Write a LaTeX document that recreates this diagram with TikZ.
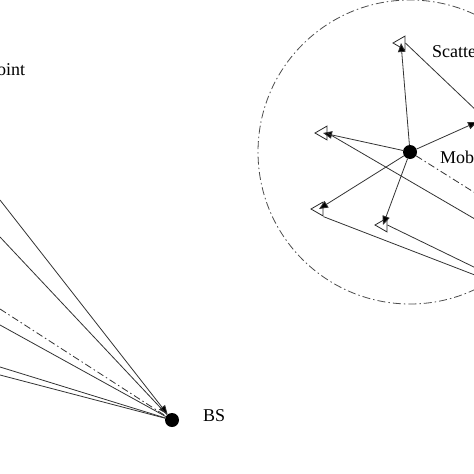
\documentclass[tikz,border=0pt]{standalone}
\usepackage{fontspec}
\setmainfont{Liberation Serif}
\usetikzlibrary{arrows.meta,shapes.geometric}
\tikzset{
  ray/.style={draw=black!80, line width=0.8pt},
  los/.style={ray, dash pattern=on 7pt off 3pt on 1.5pt off 3pt},
  zone/.style={draw=black!70, line width=0.8pt, dash pattern=on 8pt off 3pt on 1.5pt off 3pt},
  scatterer/.style={draw=black!85, line width=0.8pt, regular polygon, regular polygon sides=3,
    shape border rotate=90, minimum size=16pt, inner sep=0pt},
  station/.style={circle, fill=black, minimum size=14pt, inner sep=0pt},
  tip/.style={-{Triangle[length=9pt,width=7.5pt,fill=black]}},
  lbl/.style={anchor=base west, inner sep=0pt, font=\fontsize{18}{21}\selectfont}
}
\begin{document}
\begin{tikzpicture}[x=1pt, y=-1pt]
        \useasboundingbox (0,0) rectangle (474,474);
        \clip (0,0) rectangle (474,474);

        % Stations
        \node[station] (BS) at (172,420) {};
        \node[station] (M) at (410,152) {};

        % Scattering zone
        \draw[zone] (M.center) circle (152);

        % Scatterers
        \node[scatterer] (s1) at (401,43) {};
        \node[scatterer] (s2) at (323,133) {};
        \node[scatterer] (s3) at (319,209) {};
        \node[scatterer] (s4) at (383,225) {};

        % Free ends
        \coordinate (e0) at (477,122);
        \coordinate (r1) at (480,114);
        \coordinate (r2) at (480,222);
        \coordinate (r3) at (480,277);
        \coordinate (r4) at (480,270);
        \coordinate (r0) at (480,196);
        \coordinate (b1) at (0,200);
        \coordinate (b2) at (0,237);
        \coordinate (b3) at (0,309);
        \coordinate (b4) at (0,325);
        \coordinate (b5) at (0,367);
        \coordinate (b6) at (0,375);

        % Mobile to scatterers
        \draw[ray, tip] (M) -- (s1.center);
        \draw[ray, tip] (M) -- (s2.center);
        \draw[ray, tip] (M) -- (s3.center);
        \draw[ray, tip] (M) -- (s4.center);
        \draw[ray, tip] (M) -- (e0);
        \draw[los] (M) -- (r0);

        % Scattered paths
        \draw[ray] (s1.side 2) -- (r1);
        \draw[ray] (s2.side 2) -- (r2);
        \draw[ray] (s3.corner 2) -- (r3);
        \draw[ray] (s4.side 2) -- (r4);

        % Paths at the BS
        \draw[ray, tip] (b1) -- (BS);
        \draw[ray] (b2) -- (BS);
        \draw[los] (b3) -- (BS);
        \draw[ray] (b4) -- (BS);
        \draw[ray] (b5) -- (BS);
        \draw[ray] (b6) -- (BS);

        % Labels
        \node[lbl] (pt) at (-3,75) {oint};
        \node[lbl] (sc) at (432,57) {Scatte};
        \node[lbl] (mb) at (440,163) {Mob};
        \node[lbl] (bs) at (203,421) {BS};
\end{tikzpicture}
\end{document}
